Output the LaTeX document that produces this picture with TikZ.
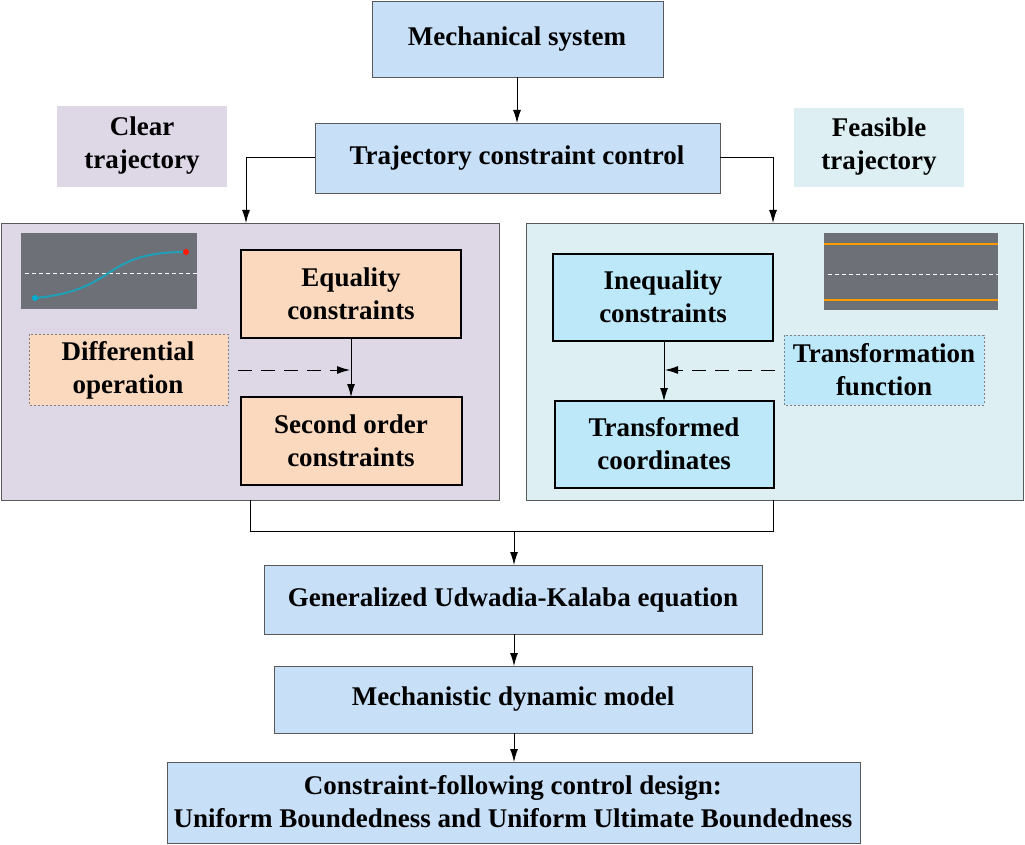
\documentclass[tikz,border=0pt]{standalone}
\usepackage{fontspec}
\setmainfont{Liberation Serif}
\usetikzlibrary{arrows.meta}
\definecolor{bl}{HTML}{C8DFF8}
\definecolor{pur}{HTML}{DDD7E6}
\definecolor{cy}{HTML}{DDEFF3}
\definecolor{org}{HTML}{FAD9BE}
\definecolor{sky}{HTML}{BDE8F9}
\definecolor{road}{HTML}{6E7078}
\definecolor{teal2}{HTML}{1FA0B8}
\begin{document}
\begin{tikzpicture}[x=1pt,y=-1pt,
  txt/.style={font=\fontsize{27}{33}\selectfont\bfseries,align=center},
  bx/.style={draw=gray!70!black,fill=bl,line width=0.8pt},
  inb/.style={draw=black,line width=1.4pt},
  dsh/.style={draw=gray,dash pattern=on 2pt off 2pt,line width=0.6pt},
  arr/.style={-{Latex[length=13pt,width=8pt]},line width=1pt},
  darr/.style={arr,dash pattern=on 14pt off 9pt}]
\useasboundingbox (0,0) rectangle (1025,845);
% top
\draw[bx] (372,1) rectangle (663,77); \node[txt] (ms) at (517,39) {Mechanical system};
\draw[bx] (315,123) rectangle (720,193); \node[txt] (tc) at (517,158) {Trajectory constraint control};
\fill[pur] (57,106) rectangle (227,187); \node[txt] (ct) at (142,146) {Clear\\trajectory};
\fill[cy] (794,108) rectangle (964,187); \node[txt] (ft) at (879,147) {Feasible\\trajectory};
% panels
\draw[draw=gray!70!black,fill=pur,line width=0.8pt] (1,223) rectangle (499,500);
\draw[draw=gray!70!black,fill=cy,line width=0.8pt] (526,223) rectangle (1023,500);
% left image
\fill[road] (21,233) rectangle (197,309);
\draw[white,dash pattern=on 4pt off 3pt,line width=1pt] (25,273) -- (197,273);
\draw[teal2,line width=2pt] (35,298) .. controls (120,290) and (100,252) .. (186,252);
\fill[cyan!80!green] (35,298) circle (3);
\fill[red!80!orange] (186,252) circle (3);
% right image
\fill[road] (824,233) rectangle (998,310);
\draw[orange!80!yellow,line width=1.2pt] (824,244) -- (998,244) (824,300) -- (998,300);
\draw[white,dash pattern=on 4pt off 3pt,line width=1pt] (828,274) -- (998,274);
% left inner
\draw[inb,fill=org] (241,250) rectangle (461,338); \node[txt] (eq) at (351,294) {Equality\\constraints};
\draw[inb,fill=org] (241,397) rectangle (462,485); \node[txt] (so) at (351,441) {Second order\\constraints};
\draw[dsh,fill=org] (29,334) rectangle (228,405); \node[txt] (dop) at (128,370) {Differential\\operation};
\coordinate (dl) at (350,370);
% right inner
\draw[inb,fill=sky] (553,254) rectangle (773,341); \node[txt] (iq) at (663,297) {Inequality\\constraints};
\draw[inb,fill=sky] (555,401) rectangle (774,488); \node[txt] (tco) at (664,444) {Transformed\\coordinates};
\draw[dsh,fill=sky] (784,335) rectangle (984,405); \node[txt] (tf) at (884,370) {Transformation\\function};
\coordinate (dr) at (665,370);
% bottom
\draw[bx] (264,565) rectangle (762,634); \node[txt] (gu) at (513,600) {Generalized Udwadia-Kalaba equation};
\draw[bx] (274,666) rectangle (752,733); \node[txt] (md) at (513,699) {Mechanistic dynamic model};
\draw[bx] (167,762) rectangle (860,843); \node[txt] (cf) at (513,802) {Constraint-following control design:\\Uniform Boundedness and Uniform Ultimate Boundedness};
% connectors
\draw[arr] (517,77) -- (517,123);
\draw[arr] (315,158) -- (246,158) -- (246,223);
\draw[arr] (720,158) -- (773,158) -- (773,223);
\draw[arr] (351,338) -- (351,397);
\draw[arr] (664,341) -- (664,401);
\draw[darr] (238,370) -- (dl);
\draw[darr] (775,370) -- (dr);
\draw[line width=1pt] (250,500) -- (250,531) -- (773,531) -- (773,500);
\draw[arr] (514,531) -- (514,565);
\draw[arr] (514,634) -- (514,666);
\draw[arr] (514,733) -- (514,762);
\end{tikzpicture}
\end{document}
